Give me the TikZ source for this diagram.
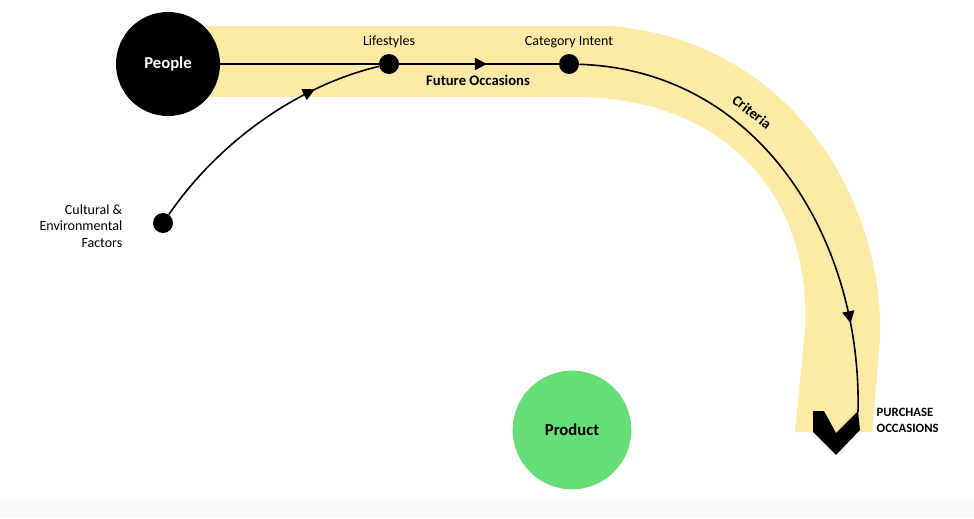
\documentclass[tikz,border=0pt]{standalone}
\usepackage{fontspec}
\setmainfont{Carlito}
\usetikzlibrary{decorations.markings,arrows.meta}
\definecolor{band}{HTML}{FCEAA6}
\definecolor{prod}{HTML}{66DD77}
\tikzset{
  dot/.style={circle,fill=black,minimum size=15pt,inner sep=0pt},
  lbl/.style={font=\fontsize{10.5}{12.5}\selectfont},
  flow/.style={line width=1.2pt},
  midarrow/.style={decoration={markings,mark=at position #1 with {\arrow{Triangle[length=9pt,width=9pt]}}},postaction=decorate}
}
\begin{document}
\begin{tikzpicture}[x=0.75pt,y=-0.75pt]
\useasboundingbox (0,0) rectangle (974,518);
\fill[white] (0,0) rectangle (974,518);
\fill[gray!4] (0,500) rectangle (974,518);
% band
\fill[band] (200,26) -- (610,26) .. controls (790,40) and (885,200) .. (880,340) -- (872,432) -- (795,432) -- (805,330) .. controls (812,190) and (720,97) .. (575,97) -- (200,97) -- cycle;
% nodes
\node[circle,fill=black,minimum size=78pt,inner sep=0pt,text=white,font=\bfseries\fontsize{12.5}{14}\selectfont] (people) at (168,64) {People};
\node[dot] (life) at (389,64) {};
\node[dot] (cat) at (569,64) {};
\node[dot] (cult) at (163,223) {};
\coordinate (end) at (858,412);
\node[circle,fill=prod,minimum size=89pt,inner sep=0pt,font=\bfseries\fontsize{12.5}{14}\selectfont] (product) at (572,430) {Product};
% connectors
\draw[flow] (people) -- (life);
\draw[flow,midarrow=0.55] (life) -- (cat);
\draw[flow,midarrow=0.74] (cult) .. controls (220,140) and (300,85) .. (life);
\draw[flow,midarrow=0.82] (cat) .. controls (760,70) and (862,240) .. (end);
% chevron
\fill[black] (813,411) -- (824,411) -- (836,433) -- (858,411) -- (860,430) -- (836,455) -- (813,432) -- cycle;
% labels
\node[lbl,above=1pt] (l1) at (life.north) {Lifestyles};
\node[lbl,above=1pt] (l2) at (cat.north) {Category Intent};
\node[lbl,font=\bfseries\fontsize{11}{12}\selectfont] (l3) at (478,80) {Future Occasions};
\node[lbl,font=\bfseries\fontsize{11}{12}\selectfont,rotate=-38] (l4) at (752,112) {Criteria};
\node[lbl,align=right,anchor=east] (l5) at (127,226) {Cultural \&\\Environmental\\Factors};
\node[lbl,align=left,anchor=west,font=\bfseries\fontsize{9.5}{12}\selectfont] (l6) at (872,420) {PURCHASE\\OCCASIONS};
\end{tikzpicture}
\end{document}
